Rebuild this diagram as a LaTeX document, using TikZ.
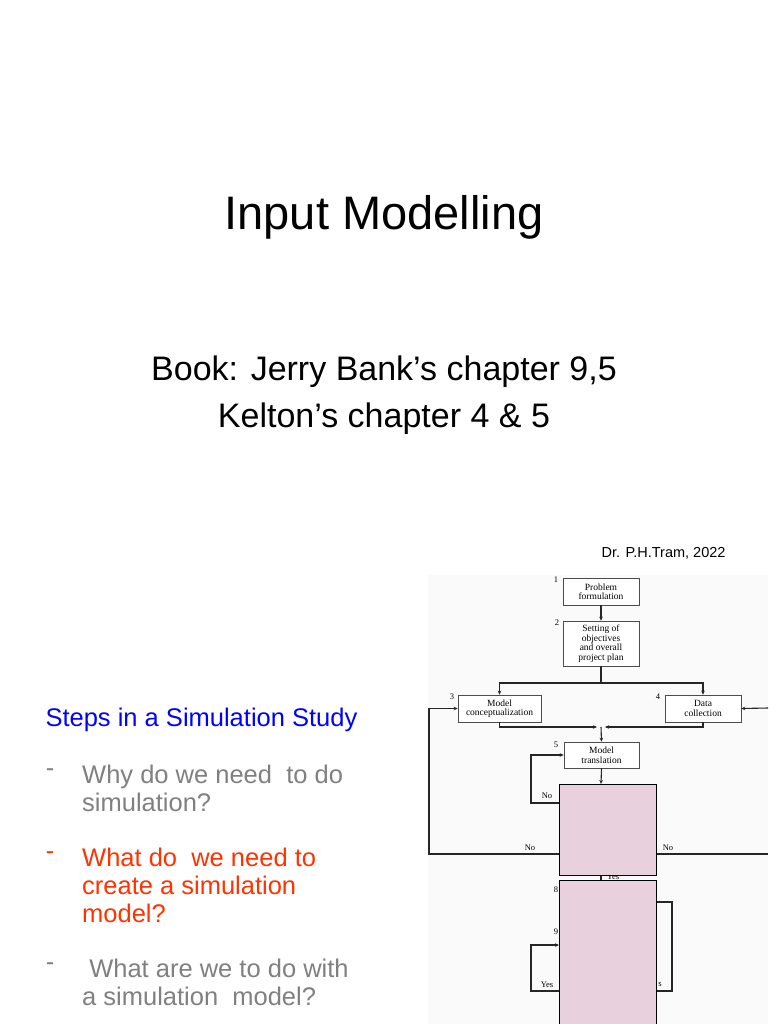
\documentclass[tikz,border=0pt]{standalone}
\usepackage{fontspec}
\setmainfont{Liberation Sans}
\newfontfamily\bookfont{Liberation Serif}
\usetikzlibrary{arrows.meta}
\definecolor{pinkbox}{HTML}{E8D0DC}
\definecolor{grtxt}{HTML}{808080}
\definecolor{redtxt}{HTML}{FF3300}
\tikzset{
  fbox/.style={draw=black!70, fill=white, line width=0.6pt, font=\bookfont\fontsize{9.5}{9.5}\selectfont, align=center, inner sep=1pt},
  pbox/.style={draw=black, fill=pinkbox, line width=0.8pt},
  conn/.style={line width=1.1pt, black!85},
  arr/.style={conn, -{Stealth[length=4pt,width=3.5pt]}},
  lab/.style={font=\bookfont\fontsize{8.5}{8.5}\selectfont, inner sep=0.5pt},
  list/.style={anchor=north west, align=left, font=\fontsize{25.5}{28}\selectfont, inner sep=0pt},
  dsh/.style={anchor=center, font=\fontsize{25.5}{28}\selectfont, inner sep=0pt}
}
\begin{document}
\begin{tikzpicture}[x=1pt,y=-1pt]
\useasboundingbox (0,0) rectangle (768,1024);
\fill[white] (0,0) rectangle (768,1024);
\fill[black!2] (428,575) rectangle (768,1024);
\node (title) at (384,217) {\fontsize{47}{52}\selectfont Input Modelling};
\node (b1) at (384,372) {\fontsize{34}{40}\selectfont Book: Jerry Bank’s chapter 9,5};
\node (b2) at (384,419) {\fontsize{34}{40}\selectfont Kelton’s chapter 4 \& 5};
\node[anchor=east] (dr) at (729,553) {\fontsize{14.5}{17}\selectfont Dr. P.H.Tram, 2022};
\node[anchor=west, blue, font=\fontsize{25.5}{30}\selectfont] (steps) at (42,720) {Steps in a Simulation Study};
\node[dsh, grtxt] (d1) at (50,773) {-};
\node[list, grtxt] (t1) at (82,765) {Why do we need\ \ to do\\simulation?};
\node[dsh, redtxt] (d2) at (50,856) {-};
\node[list, redtxt] (t2) at (82,848) {What do\ \ we need to\\create a simulation\\model?};
\node[dsh, grtxt] (d3) at (50,967) {-};
\node[list, grtxt] (t3) at (82,959) {\ What are we to do with\\a simulation\ \ model?};
% flowchart
\node[fbox, minimum width=76, minimum height=27] (p1) at (601,591.5) {Problem\\formulation};
\node[fbox, minimum width=76, minimum height=45] (p2) at (601,643.5) {Setting of\\objectives\\and overall\\project plan};
\node[fbox, minimum width=83, minimum height=27] (p3) at (499.5,708.5) {Model\\conceptualization};
\node[fbox, minimum width=76, minimum height=27] (p4) at (703,708.5) {Data\\collection};
\node[fbox, minimum width=75, minimum height=26] (p5) at (601.5,755) {Model\\translation};
\node[lab] (n1) at (556,580) {1};
\node[lab] (n2) at (557,623) {2};
\node[lab] (n3) at (452,697) {3};
\node[lab] (n4) at (658,697) {4};
\node[lab] (n5) at (556,745) {5};
\coordinate (sp) at (601,683);
\coordinate (jn) at (601,727);
\coordinate (re) at (768,854);
\coordinate (re2) at (768,708);
\draw[arr] (p1) -- (p2);
\draw[conn] (p2.south) -- (sp);
\draw[arr] (sp) -| (p3.north);
\draw[arr] (sp) -| (p4.north);
\draw[arr] (p3.south) |- ([xshift=-4]jn);
\draw[arr] (p4.south) |- ([xshift=4]jn);
\draw[arr] (jn) -- (p5.north);
\draw[arr] (p5.south) -- (601,784);
\draw[arr] (560,803) -- (531,803) |- (p5.west);
\draw[arr] (560,854) -- (429,854) |- (p3.west);
\draw[conn] (656,854) -- (re);
\draw[arr] (re2) -- (p4.east);
\draw[conn] (601,875) -- (601,880);
\draw[conn] (656,902) -- (672,902) -- (672,991) -- (656,991);
\draw[arr] (560,991) -- (531,991) |- (559,945);
\node[lab] (no1) at (547,796) {No};
\node[lab] (no2) at (530,848) {No};
\node[lab] (no3) at (668,848) {No};
\node[lab] (y1) at (613,877) {Yes};
\node[lab] (y2) at (547,985) {Yes};
\node[lab] (y3) at (660,985) {s};
\node[lab] (n8) at (556,890) {8};
\node[lab] (n9) at (556,932) {9};
\node[pbox, minimum width=97, minimum height=91, inner sep=0] (pk1) at (607.5,829.5) {};
\node[pbox, minimum width=97, minimum height=150, inner sep=0] (pk2) at (607.5,955) {};
\end{tikzpicture}
\end{document}
